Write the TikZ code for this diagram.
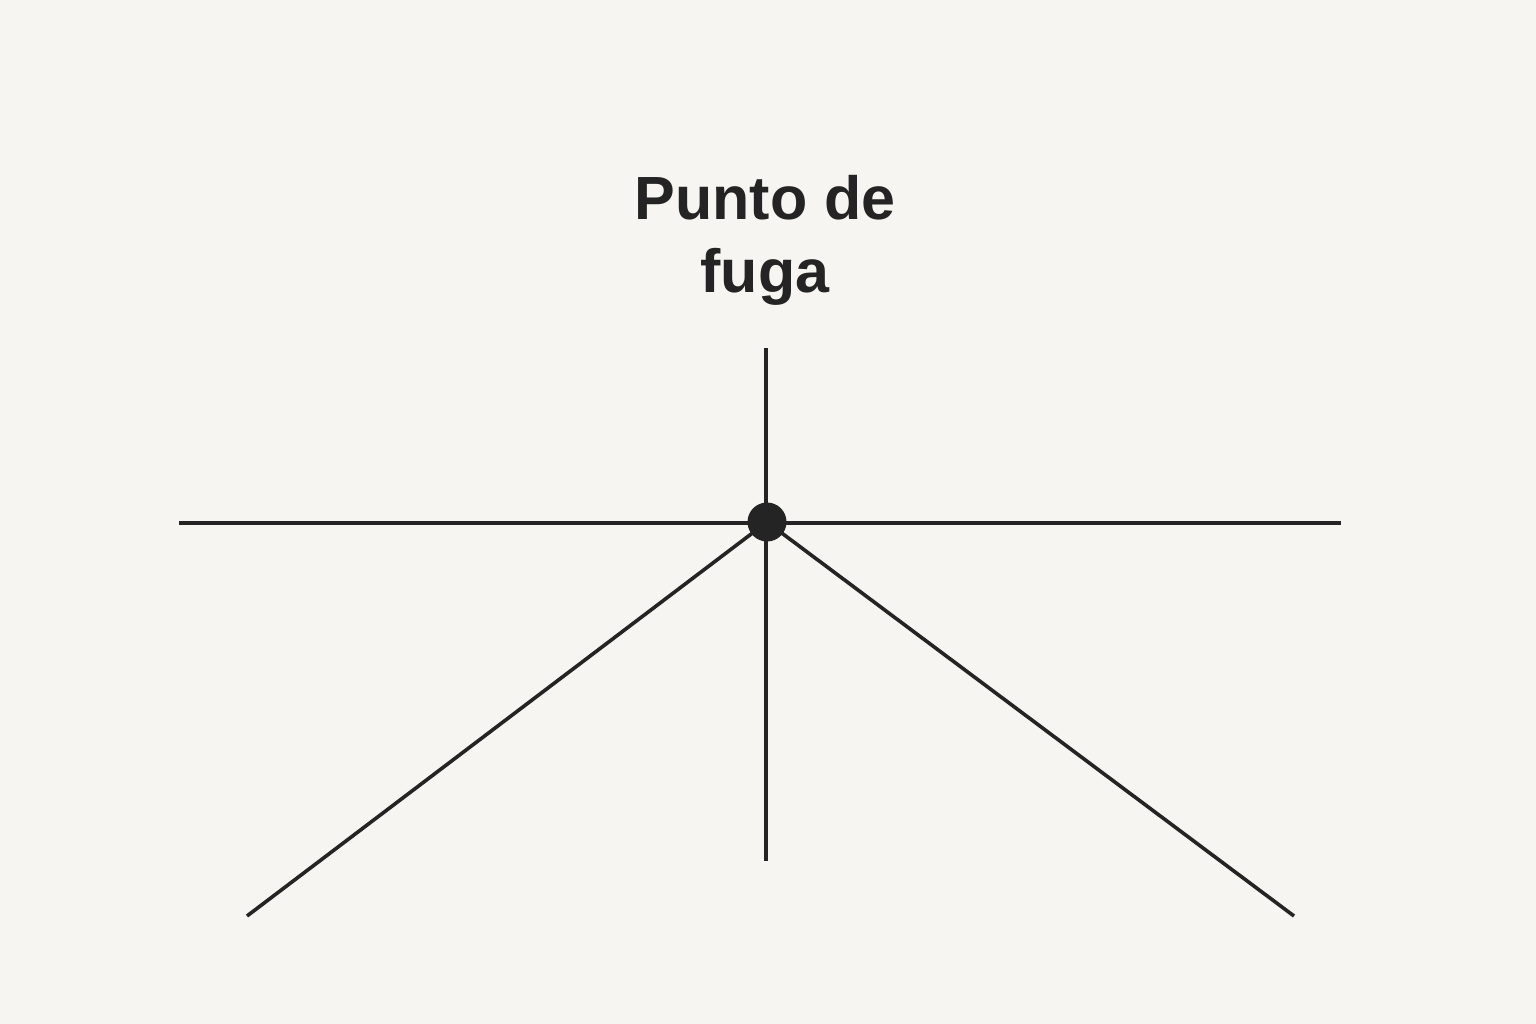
\documentclass[tikz,border=0pt]{standalone}
\usepackage{fontspec}
\setmainfont{Liberation Sans}
\definecolor{bg}{HTML}{F7F5F1}
\definecolor{ink}{HTML}{242424}
\begin{document}
\begin{tikzpicture}[x=1pt,y=-1pt,
  ray/.style={draw=ink,line width=3.6pt},
  title/.style={text=ink,font=\fontsize{61}{73}\selectfont\bfseries,inner sep=0pt,anchor=base}]
\fill[bg] (0,0) rectangle (1536,1024);
\useasboundingbox (0,0) rectangle (1536,1024);
\coordinate (vp) at (767,522);
\coordinate (top) at (766,348);
\coordinate (bot) at (766,861);
\coordinate (left) at (179,523);
\coordinate (right) at (1341,523);
\coordinate (bl) at (247,916);
\coordinate (br) at (1294,916);
\draw[ray] (top) -- (bot);
\draw[ray] (left) -- (right);
\draw[ray] (vp) -- (bl);
\draw[ray] (vp) -- (br);
\fill[ink] (vp) circle (19.5);
\node[title] (t1) at (765,220) {Punto de};
\node[title] (t2) at (765,293) {fuga};
\end{tikzpicture}
\end{document}
